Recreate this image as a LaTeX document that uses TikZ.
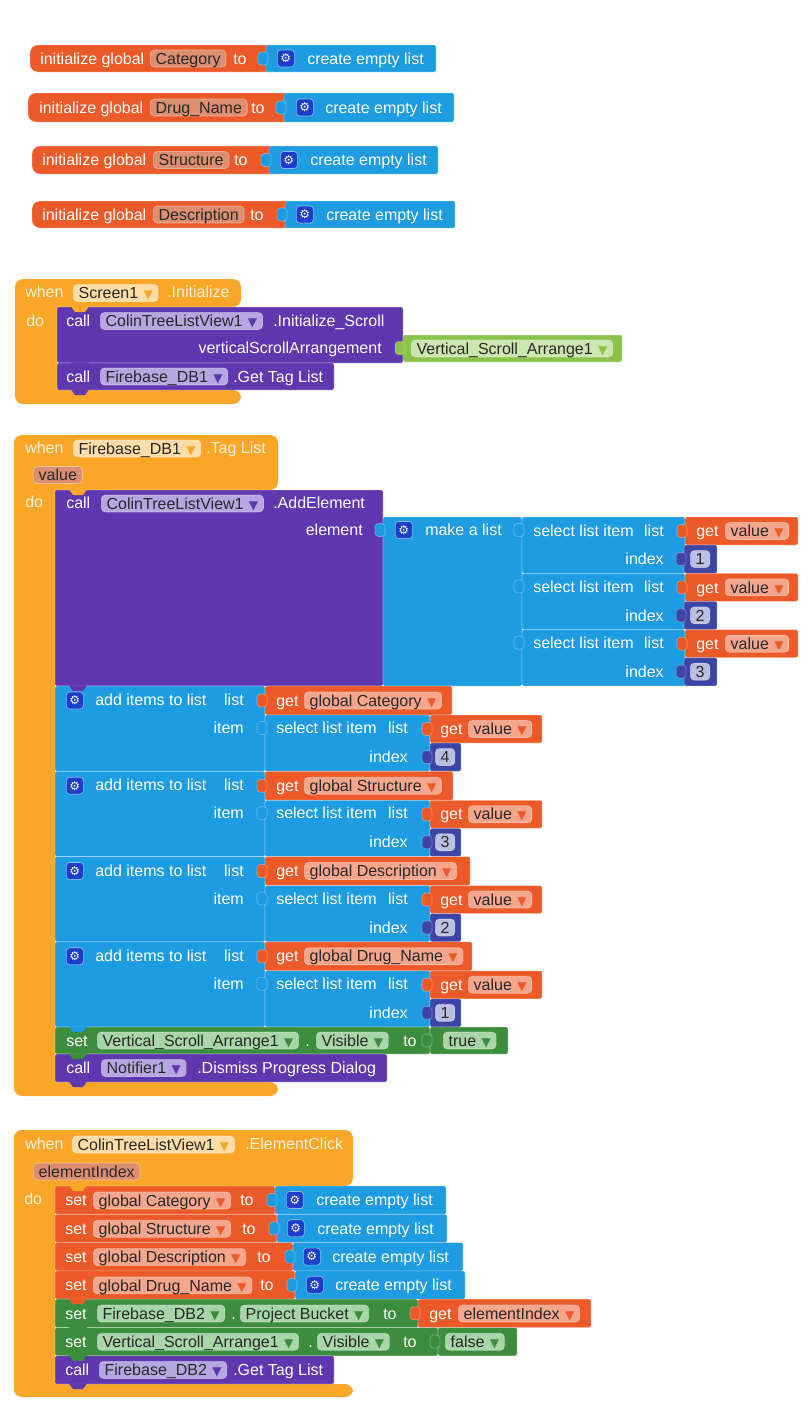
\documentclass[tikz,border=0pt]{standalone}
\usepackage{fontspec}
\setmainfont{Liberation Sans}
\newfontfamily\dvf{DejaVu Sans}
\definecolor{cRed}{RGB}{236,90,41}
\definecolor{cRedF}{RGB}{246,166,140}
\definecolor{cPar}{RGB}{222,142,112}
\definecolor{cBlue}{RGB}{30,156,225}
\definecolor{cGear}{RGB}{28,62,205}
\definecolor{cOr}{RGB}{250,166,40}
\definecolor{cOrF}{RGB}{255,221,168}
\definecolor{cOrT}{RGB}{255,242,220}
\definecolor{cPu}{RGB}{95,55,175}
\definecolor{cPuF}{RGB}{182,166,226}
\definecolor{cGr}{RGB}{60,142,62}
\definecolor{cGrF}{RGB}{168,214,168}
\definecolor{cLi}{RGB}{139,195,74}
\definecolor{cLiF}{RGB}{205,230,175}
\definecolor{cNu}{RGB}{62,70,165}
\definecolor{cNuF}{RGB}{188,190,228}
\definecolor{cFT}{RGB}{40,40,40}
\newcounter{nn}
\newcommand\dd[1]{\hspace{4pt}{\dvf\fontsize{9}{9}\selectfont\textcolor{#1}{▼}}}
\newcommand\zT[4][white]{\stepcounter{nn}\node[txt,text=#1] (t\arabic{nn}) at (#2,#3) {#4};}
\newcommand\zR[4][white]{\stepcounter{nn}\node[txt,anchor=east,text=#1] (t\arabic{nn}) at (#2,#3) {#4};}
\newcommand\zF[5]{\stepcounter{nn}\node[fld,fill=#3] (t\arabic{nn}) at (#1,#2) {#5\dd{#4}};}
\newcommand\zN[4]{\stepcounter{nn}\node[fld,fill=#3] (t\arabic{nn}) at (#1,#2) {#4};}
\newcommand\zG[2]{\stepcounter{nn}\node[gearbox] (t\arabic{nn}) at (#1,#2) {⚙};}
\newcommand\zK[5]{\path[blk,fill=#5] (#1,#2) rectangle (#3,#4);}
\newcommand\zV[3]{\path[blk,fill=#3,rounded corners=2.5pt] ({#1-8},{#2-6.5}) rectangle ({#1+2},{#2+6.5});}
\newcommand\zS[3]{\path[fill=#3] ({#1+14},{#2-0.6}) -- ({#1+18},{#2+5}) -- ({#1+28},{#2+5}) -- ({#1+32},{#2-0.6}) -- cycle;}
\tikzset{
  txt/.style={font=\fontsize{12}{14}\selectfont, inner sep=0pt, anchor=west, text height=8.6pt, text depth=0pt},
  fld/.style={txt, text=cFT, inner xsep=4pt, minimum height=12.75pt, rounded corners=3pt, draw=white, draw opacity=0.4, line width=0.5pt},
  gearbox/.style={anchor=west, minimum size=12.75pt, inner sep=0pt, rounded corners=2.5pt, fill=cGear, draw=white, draw opacity=0.5, line width=0.5pt, text=white, font=\dvf\fontsize{9}{9}\selectfont},
  blk/.style={draw=white, draw opacity=0.3, line width=0.5pt, rounded corners=1.5pt}
}
\begin{document}
\begin{tikzpicture}[x=0.75pt,y=-0.75pt]
\fill[white] (0,0) rectangle (807,1417);
\useasboundingbox (0,0) rectangle (807,1417);

% ---------- initialize globals ----------
\path[blk,fill=cRed,rounded corners=6pt] (30,45) rectangle (280,72);
\zK{266}{45}{436}{72}{cBlue}\zV{266}{58.5}{cBlue}
\zT{40}{58.5}{initialize global}\zN{150}{58.5}{cPar}{Category}\zT{233}{58.5}{to}
\zG{277}{58.5}\zT{307}{58.5}{create empty list}

\path[blk,fill=cRed,rounded corners=6pt] (28,93) rectangle (296,122);
\zK{284}{93}{454}{122}{cBlue}\zV{284}{107.5}{cBlue}
\zT{39}{107.5}{initialize global}\zN{150}{107.5}{cPar}{Drug\_Name}\zT{251}{107.5}{to}
\zG{296}{107.5}\zT{325}{107.5}{create empty list}

\path[blk,fill=cRed,rounded corners=6pt] (32,146) rectangle (281,174);
\zK{269}{146}{438}{174}{cBlue}\zV{269}{160}{cBlue}
\zT{42}{160}{initialize global}\zN{153}{160}{cPar}{Structure}\zT{234}{160}{to}
\zG{280}{160}\zT{310}{160}{create empty list}

\path[blk,fill=cRed,rounded corners=6pt] (32,201) rectangle (297,228);
\zK{285}{201}{455}{228}{cBlue}\zV{285}{214.5}{cBlue}
\zT{42}{214.5}{initialize global}\zN{153}{214.5}{cPar}{Description}\zT{250}{214.5}{to}
\zG{296}{214.5}\zT{326}{214.5}{create empty list}

% ---------- when Screen1.Initialize ----------
\path[fill=cOr,rounded corners=6pt] (15,279) -- (241,279) -- (241,307) -- (57,307) -- (57,390) -- (241,390) -- (241,404) -- (15,404) -- cycle;
\zT[cOrT]{25}{292}{when}\zF{73}{293}{cOrF}{cOr}{Screen1}\zT[cOrT]{167}{292}{.Initialize}
\zT[cOrT]{26}{321}{do}
\zK{57}{307}{403}{363}{cPu}
\zT{66}{321}{call}\zF{100}{321}{cPuF}{cPu}{ColinTreeListView1}\zT{273}{321}{.Initialize\_Scroll}
\zR{382}{348}{verticalScrollArrangement}
\zK{403}{335}{622}{362}{cLi}\zV{403}{348}{cLi}
\zF{411}{348.5}{cLiF}{cLi}{Vertical\_Scroll\_Arrange1}
\zK{57}{363}{334}{390}{cPu}
\zT{66}{376.5}{call}\zF{100}{376.5}{cPuF}{cPu}{Firebase\_DB1}\zT{233}{376.5}{.Get Tag List}
\zS{57}{307}{cOr}\zS{57}{363}{cPu}\zS{57}{390}{cPu}

% ---------- when Firebase_DB1.Tag List ----------
\path[fill=cOr,rounded corners=6pt] (14,435) -- (278,435) -- (278,490) -- (55,490) -- (55,1082) -- (278,1082) -- (278,1096) -- (14,1096) -- cycle;
\zT[cOrT]{25}{448}{when}\zF{73}{448.5}{cOrF}{cOr}{Firebase\_DB1}\zT[cOrT]{206}{448}{.Tag List}
\zN{33}{475}{cPar}{value}
\zT[cOrT]{25}{502}{do}
\zK{55}{490}{383}{686}{cPu}
\zT{66}{503}{call}\zF{101}{503.5}{cPuF}{cPu}{ColinTreeListView1}\zT{273}{503}{.AddElement}
\zR{363}{530}{element}
\zK{383}{517}{522}{686}{cBlue}\zV{383}{530}{cBlue}
\zG{395}{530}\zT{425}{530}{make a list}
\foreach \k/\nu in {0/1,1/2,2/3}{
  \pgfmathsetmacro\ss{517+56.33*\k}
  \zK{522}{\ss}{685}{\ss+56.33}{cBlue}\zV{522}{\ss+13}{cBlue}
  \zT{533}{\ss+13.5}{select list item}\zR{664}{\ss+13.5}{list}
  \zR{664}{\ss+42}{index}
  \zK{685}{\ss}{798}{\ss+28}{cRed}\zV{685}{\ss+14}{cRed}
  \zT{696}{\ss+14}{get}\zF{725}{\ss+14}{cRedF}{cRed}{value}
  \zK{684}{\ss+28}{717}{\ss+56.33}{cNu}\zV{684}{\ss+42}{cNu}
  \zN{690}{\ss+42}{cNuF}{\nu}
}
\foreach \k/\nm/\xr/\nu in {0/{global Category}/452/4,1/{global Structure}/453/3,2/{global Description}/470/2,3/{global Drug\_Name}/472/1}{
  \pgfmathsetmacro\yy{686+85.25*\k}
  \zK{55}{\yy}{265}{\yy+85.25}{cBlue}
  \zG{66}{\yy+14.5}\zT{95}{\yy+14}{add items to list}
  \zR{244}{\yy+14}{list}\zR{244}{\yy+42}{item}
  \zK{265}{\yy}{\xr}{\yy+29}{cRed}\zV{265}{\yy+14.5}{cRed}
  \zT{276}{\yy+14.5}{get}\zF{304}{\yy+14.5}{cRedF}{cRed}{\nm}
  \zK{265}{\yy+29}{430}{\yy+85.25}{cBlue}\zV{265}{\yy+42}{cBlue}
  \zT{276}{\yy+42}{select list item}\zR{408}{\yy+42}{list}
  \zR{408}{\yy+71}{index}
  \zK{430}{\yy+29}{542}{\yy+57}{cRed}\zV{430}{\yy+43}{cRed}
  \zT{440}{\yy+43}{get}\zF{468}{\yy+43}{cRedF}{cRed}{value}
  \zK{430}{\yy+57}{461}{\yy+85.25}{cNu}\zV{430}{\yy+71}{cNu}
  \zN{435}{\yy+71}{cNuF}{\nu}
}
\zK{55}{1027}{430}{1054}{cGr}
\zK{430}{1027}{508}{1054}{cGr}\zV{430}{1040.5}{cGr}
\zT{66}{1040.5}{set}\zF{97}{1040.5}{cGrF}{cGr}{Vertical\_Scroll\_Arrange1}
\zT{305}{1040.5}{.}\zF{316}{1040.5}{cGrF}{cGr}{Visible}\zT{403}{1040.5}{to}
\zF{443}{1040.5}{cGrF}{cGr}{true}
\zK{55}{1054}{387}{1082}{cPu}
\zT{66}{1068}{call}\zF{101}{1068}{cPuF}{cPu}{Notifier1}\zT{197}{1068}{.Dismiss Progress Dialog}
\zS{55}{490}{cOr}\zS{55}{686}{cPu}\zS{55}{1027}{cBlue}\zS{55}{1054}{cGr}\zS{55}{1082}{cPu}

% ---------- when ColinTreeListView1.ElementClick ----------
\path[fill=cOr,rounded corners=6pt] (14,1130) -- (353,1130) -- (353,1186) -- (55,1186) -- (55,1384) -- (353,1384) -- (353,1397) -- (14,1397) -- cycle;
\zT[cOrT]{25}{1144}{when}\zF{72}{1144.5}{cOrF}{cOr}{ColinTreeListView1}\zT[cOrT]{245}{1144}{.ElementClick}
\zN{33}{1171.5}{cPar}{elementIndex}
\zT[cOrT]{24}{1199}{do}
\foreach \k/\nm/\xa/\xb/\xc/\xg/\xt in {0/{global Category}/275/446/240/286/316,1/{global Structure}/277/447/242/287/317,2/{global Description}/293/463/257/303/332,3/{global Drug\_Name}/295/465/260/306/335}{
  \pgfmathsetmacro\yy{1186+28.3*\k}
  \zK{55}{\yy}{\xa}{\yy+28.3}{cRed}
  \zK{\xa}{\yy}{\xb}{\yy+28.3}{cBlue}\zV{\xa}{\yy+14}{cBlue}
  \zT{65}{\yy+14}{set}\zF{93}{\yy+14.5}{cRedF}{cRed}{\nm}\zT{\xc}{\yy+14}{to}
  \zG{\xg}{\yy+14}\zT{\xt}{\yy+14}{create empty list}
}
\zK{55}{1299.2}{418}{1327.5}{cGr}
\zK{418}{1299.2}{591}{1327.5}{cRed}\zV{418}{1313.3}{cRed}
\zT{65}{1313.3}{set}\zF{97}{1313.5}{cGrF}{cGr}{Firebase\_DB2}\zT{231}{1313.3}{.}
\zF{240}{1313.5}{cGrF}{cGr}{Project Bucket}\zT{383}{1313.3}{to}
\zT{429}{1313.3}{get}\zF{458}{1313.5}{cRedF}{cRed}{elementIndex}
\zK{55}{1327.5}{438}{1355.8}{cGr}
\zK{438}{1327.5}{517}{1355.8}{cGr}\zV{438}{1341.6}{cGr}
\zT{65}{1341.6}{set}\zF{97}{1341.8}{cGrF}{cGr}{Vertical\_Scroll\_Arrange1}\zT{308}{1341.6}{.}
\zF{317}{1341.8}{cGrF}{cGr}{Visible}\zT{403}{1341.6}{to}
\zF{445}{1341.8}{cGrF}{cGr}{false}
\zK{55}{1355.8}{334}{1384}{cPu}
\zT{65}{1370}{call}\zF{99}{1370}{cPuF}{cPu}{Firebase\_DB2}\zT{233}{1370}{.Get Tag List}
\zS{55}{1186}{cOr}\zS{55}{1299.2}{cRed}\zS{55}{1327.5}{cGr}\zS{55}{1355.8}{cGr}\zS{55}{1384}{cPu}
\end{tikzpicture}
\end{document}
